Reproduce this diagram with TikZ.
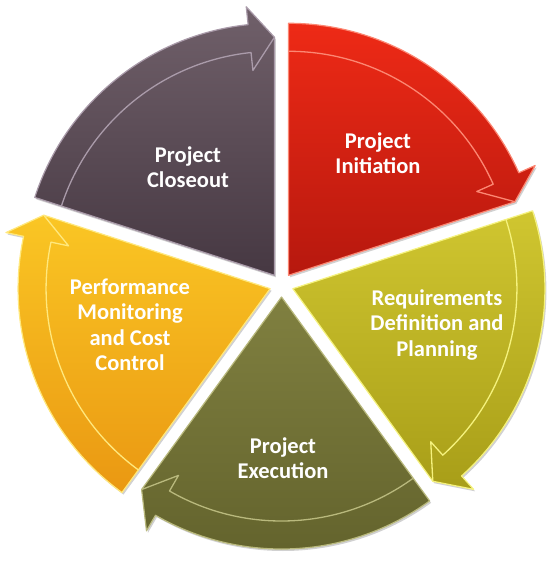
\documentclass[tikz,border=0pt]{standalone}
\usepackage{fontspec}
\setmainfont{Carlito}

\definecolor{closeoutA}{RGB}{112,96,106}
\definecolor{closeoutB}{RGB}{70,56,66}
\definecolor{closeoutC}{RGB}{170,155,170}
\definecolor{initiationA}{RGB}{238,42,22}
\definecolor{initiationB}{RGB}{182,24,14}
\definecolor{initiationC}{RGB}{252,135,115}
\definecolor{requirementsA}{RGB}{208,198,48}
\definecolor{requirementsB}{RGB}{168,158,24}
\definecolor{requirementsC}{RGB}{245,242,125}
\definecolor{executionA}{RGB}{128,128,64}
\definecolor{executionB}{RGB}{98,98,44}
\definecolor{executionC}{RGB}{185,185,125}
\definecolor{performanceA}{RGB}{250,198,36}
\definecolor{performanceB}{RGB}{234,152,18}
\definecolor{performanceC}{RGB}{255,232,125}

\tikzset{
	sliceline/.style={line width=1.2pt,line join=round},
	rimline/.style={line width=1.3pt,line join=round},
	phase/.style={text=white,font=\bfseries\fontsize{22.5}{25.5}\selectfont,align=center},
}

% one slice of the cycle: start angle, end angle, colour name
\newcommand{\pieslice}[3]{%
	\begin{scope}[shift={({(#1+#2)/2}:12)}]
		\fill[black!18,shift={(1.5,-2)}] (0,0) -- (#1:252) arc[start angle=#1,end angle=#2+6,radius=252] -- (#2+6:270) -- (#2:238) -- cycle;
		\shade[top color=#3A,bottom color=#3B,draw=#3C,sliceline] (0,0) -- (#1:252) arc[start angle=#1,end angle=#2+6,radius=252] -- (#2+6:270) -- (#2:238) -- cycle;
		\draw[#3C,rimline] (#1:224) arc[start angle=#1,end angle=#2+6,radius=224] -- (#2+6:206) -- (#2:238);
	\end{scope}}

\begin{document}
\begin{tikzpicture}[x=1pt,y=1pt]
		\useasboundingbox (-281.5,-276) rectangle (270.5,285);
		
		\pieslice{162}{90}{closeout}
		\pieslice{90}{18}{initiation}
		\pieslice{18}{-54}{requirements}
		\pieslice{-54}{-126}{execution}
		\pieslice{-126}{-198}{performance}
		
		\node[phase] (closeout) at (-93.5,118) {Project\\Closeout};
		\node[phase] (initiation) at (96.5,132) {Project\\Initiation};
		\node[phase] (requirements) at (155.5,-40) {Requirements\\Definition and\\Planning};
		\node[phase] (execution) at (1.5,-173) {Project\\Execution};
		\node[phase] (performance) at (-151.5,-40) {Performance\\Monitoring\\and Cost\\Control};
		
\end{tikzpicture}
\end{document}
